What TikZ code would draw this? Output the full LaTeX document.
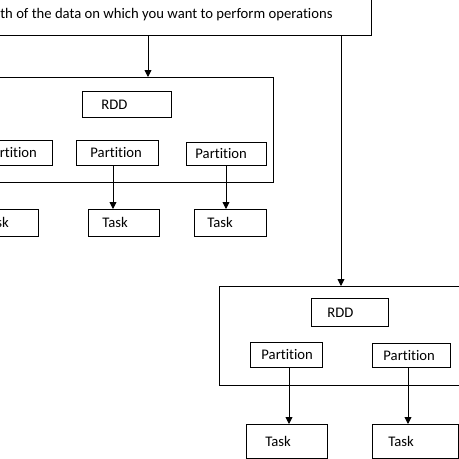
\documentclass[tikz,border=0pt]{standalone}
\usepackage{fontspec}
\setmainfont{Carlito}[Ligatures={NoCommon,NoContextual}]
\usetikzlibrary{arrows.meta}

\begin{document}
\begin{tikzpicture}[x=1pt,y=-1pt,
box/.style={draw,anchor=north west,align=left,inner ysep=0pt,line width=0.9pt},
arr/.style={-{Triangle[length=7pt,width=7pt]},line width=0.9pt},
font=\fontsize{14.67}{17}\selectfont]
\useasboundingbox (0,0) rectangle (459,459);
\clip (0,0) rectangle (459,459);
% data set on top
\node[draw,line width=0.9pt,anchor=east,minimum height=40pt,inner xsep=39pt,inner ysep=0pt] (data) at (372,15) {th of the data on which you want to perform operations};
% first rdd
\node[box,minimum width=283pt,minimum height=105pt,inner sep=0pt] (grp1) at (-10,77) {};
\node[box,minimum height=26pt,inner xsep=19pt,text width=51pt] (rdd1) at (82,91) {RDD};
\node[box,minimum height=25pt,inner xsep=15pt,text width=52pt] (p1) at (-30,140) {Partition};
\node[box,minimum height=25pt,inner xsep=14pt,text width=54pt] (p2) at (76,140) {Partition};
\node[box,minimum height=23pt,inner xsep=9pt,text width=62pt] (p3) at (186,142) {Partition};
\node[box,minimum height=27pt,inner xsep=16pt,text width=39pt] (t1) at (-33,209) {Task};
\node[box,minimum height=27pt,inner xsep=14pt,text width=43pt] (t2) at (88,209) {Task};
\node[box,minimum height=27pt,inner xsep=13pt,text width=46pt] (t3) at (194,209) {Task};
% second rdd
\node[box,minimum width=260pt,minimum height=99pt,inner sep=0pt] (grp2) at (219,286) {};
\node[box,minimum height=28pt,inner xsep=16pt,text width=45pt] (rdd2) at (311,298) {RDD};
\node[box,minimum height=25pt,inner xsep=11pt,text width=50pt] (p4) at (250,342) {Partition};
\node[box,minimum height=24pt,inner xsep=11pt,text width=56pt] (p5) at (372,343) {Partition};
\node[box,minimum height=34pt,inner xsep=19pt,text width=43pt] (t4) at (246,424) {Task};
\node[box,minimum height=34pt,inner xsep=16pt,text width=54pt] (t5) at (372,424) {Task};
% arrows
\draw[arr] (148,0 |- data.south) -- (148,0 |- grp1.north);
\draw[arr] (341,0 |- data.south) -- (341,0 |- grp2.north);
\draw[arr] (113,0 |- p2.south) -- (113,0 |- t2.north);
\draw[arr] (226,0 |- p3.south) -- (226,0 |- t3.north);
\draw[arr] (289,0 |- p4.south) -- (289,0 |- t4.north);
\draw[arr] (408,0 |- p5.south) -- (408,0 |- t5.north);
\end{tikzpicture}
\end{document}
